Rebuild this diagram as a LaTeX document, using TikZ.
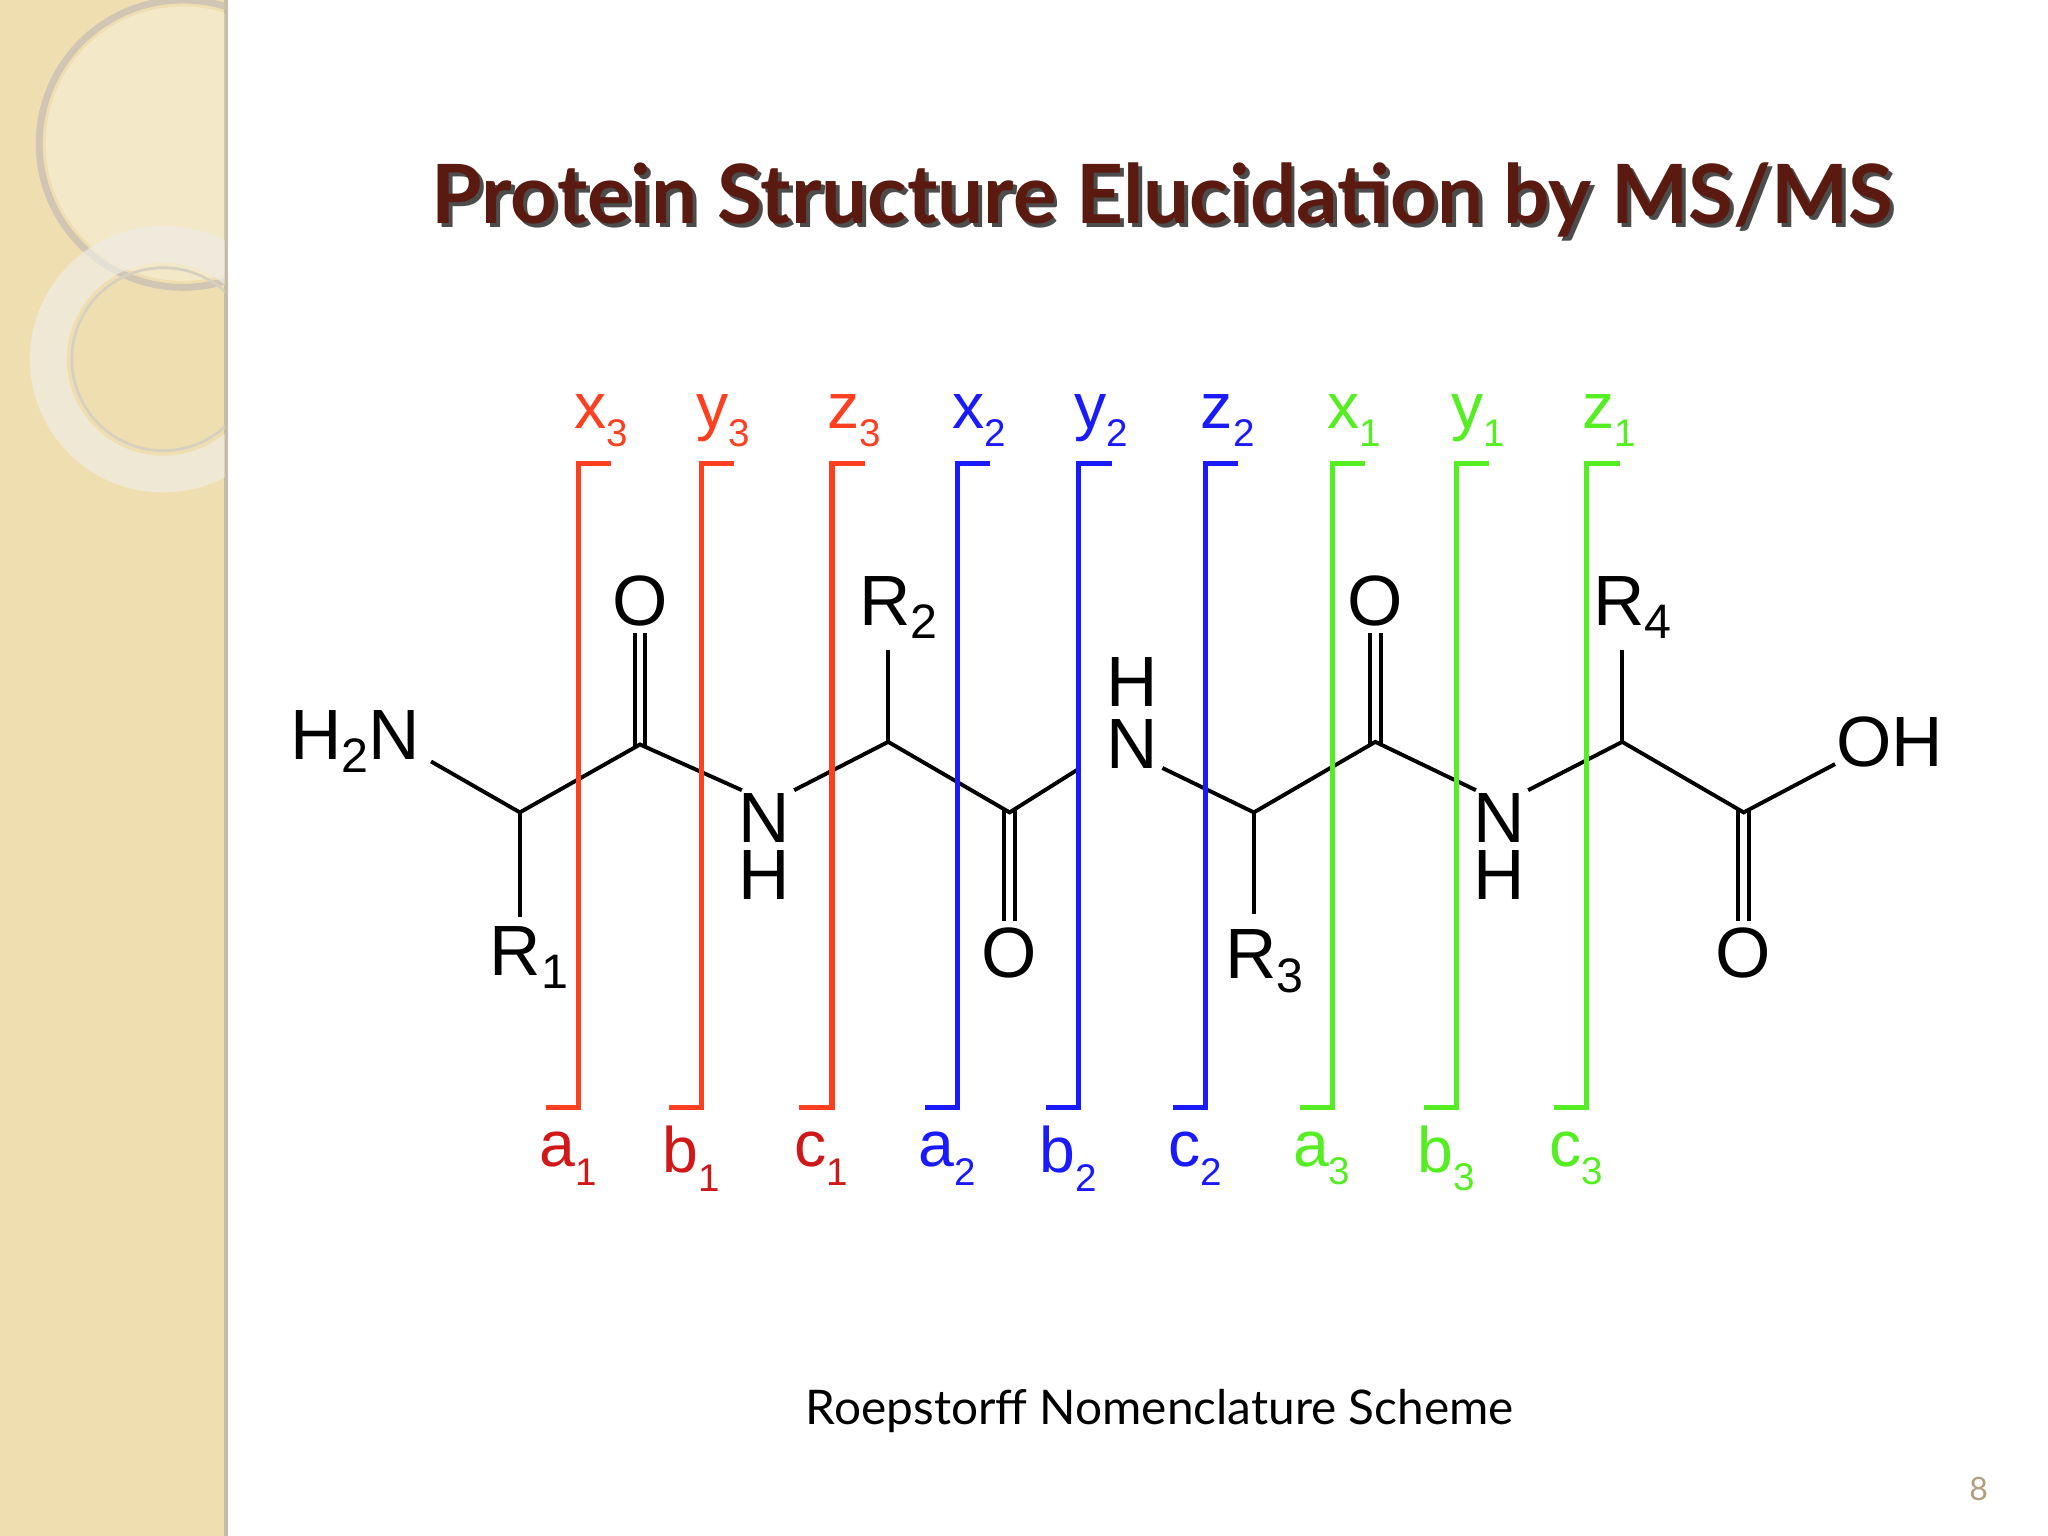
\documentclass[tikz,border=0pt]{standalone}
\usepackage{fontspec}
\setmainfont{Liberation Sans}
\newfontfamily\titlefont{Lato}
\usepackage{graphicx}
\definecolor{beige}{HTML}{EFDFB0}
\definecolor{brown}{HTML}{5A1A10}
\definecolor{fr}{HTML}{FF4020}
\definecolor{frd}{HTML}{D01818}
\definecolor{fb}{HTML}{1A1AFF}
\definecolor{fg}{HTML}{55EE22}
\definecolor{tan}{HTML}{B0A080}
\newcommand\lsb[1]{\raisebox{-0.35ex}{\scalebox{0.68}{#1}}}
\newcommand\lsc[1]{\raisebox{-0.55ex}{\scalebox{0.6}{#1}}}
\tikzset{atom/.style={font=\fontsize{15.5}{16}\selectfont,inner sep=0pt},
 bond/.style={line width=0.85pt},
 lab/.style={font=\fontsize{14}{15}\selectfont,inner sep=0pt},
 brk/.style={line width=1.1pt}}
\begin{document}
\begin{tikzpicture}[x=0.01cm,y=-0.01cm]
\useasboundingbox (0,0) rectangle (1568,1176);
\fill[white] (0,0) rectangle (1568,1176);
\fill[beige] (0,0) rectangle (172,1176);
\draw[tan!70,line width=1pt] (173,0) -- (173,1176);
\begin{scope}
\clip (0,0) rectangle (172,1176);
\fill[white,opacity=0.3] (140,110) circle (105);
\draw[tan!60!white,line width=1.5pt] (140,110) circle (110);
\draw[white!80!tan,opacity=0.7,line width=8pt] (125,275) circle (88);
\draw[tan!50!white,line width=0.6pt] (125,275) circle (70);
\end{scope}
% title
\node[font=\titlefont\bfseries\fontsize{17.8}{20}\selectfont,text=black!70] at (893,156) {Protein Structure Elucidation by MS/MS};
\node[font=\titlefont\bfseries\fontsize{17.8}{20}\selectfont,text=brown] (title) at (890,153) {Protein Structure Elucidation by MS/MS};
% atoms
\node[atom] (nh2) at (272,568) {H\lsb{2}N};
\coordinate (c1) at (398,622);
\node[atom] (r1) at (405,733) {R\lsb{1}};
\coordinate (k1) at (490,570);
\node[atom] (o1) at (490,460) {O};
\node[atom] (n1) at (585,626) {N};
\node[atom] (h1) at (585,670) {H};
\coordinate (c2) at (680,568);
\node[atom] (r2) at (688,465) {R\lsb{2}};
\coordinate (k2) at (773,622);
\node[atom] (o2) at (773,730) {O};
\node[atom] (n2) at (867,570) {N};
\node[atom] (h2) at (867,522) {H};
\coordinate (c3) at (960,622);
\node[atom] (r3) at (968,736) {R\lsb{3}};
\coordinate (k3) at (1053,568);
\node[atom] (o3) at (1053,460) {O};
\node[atom] (n3) at (1148,626) {N};
\node[atom] (h3) at (1148,670) {H};
\coordinate (c4) at (1242,568);
\node[atom] (r4) at (1250,465) {R\lsb{4}};
\coordinate (k4) at (1335,622);
\node[atom] (o4) at (1335,730) {O};
\node[atom] (oh) at (1447,568) {OH};
% bonds
\draw[bond] (330,583) -- (c1) -- (k1) -- (568,605);
\draw[bond] (c1) -- (398,702);
\draw[bond] (486,572) -- (486,485) (494,572) -- (494,485);
\draw[bond] (608,605) -- (c2) -- (k2) -- (827,588);
\draw[bond] (c2) -- (680,498);
\draw[bond] (769,620) -- (769,705) (777,620) -- (777,705);
\draw[bond] (890,588) -- (c3) -- (k3) -- (1130,605);
\draw[bond] (c3) -- (960,700);
\draw[bond] (1049,570) -- (1049,485) (1057,570) -- (1057,485);
\draw[bond] (1170,605) -- (c4) -- (k4) -- (1405,585);
\draw[bond] (c4) -- (1242,498);
\draw[bond] (1331,620) -- (1331,705) (1339,620) -- (1339,705);
% brackets
\foreach \x/\c/\t/\b/\tc in {443/fr/x\lsc{3}/a\lsc{1}/frd, 537/fr/y\lsc{3}/b\lsc{1}/frd, 637/fr/z\lsc{3}/c\lsc{1}/frd,
 733/fb/x\lsc{2}/a\lsc{2}/fb, 826/fb/y\lsc{2}/b\lsc{2}/fb, 923/fb/z\lsc{2}/c\lsc{2}/fb,
 1020/fg/x\lsc{1}/a\lsc{3}/fg, 1115/fg/y\lsc{1}/b\lsc{3}/fg, 1215/fg/z\lsc{1}/c\lsc{3}/fg}{
 \draw[brk,\c] (\x+25,355) -- (\x,355) -- (\x,848) -- (\x-25,848);
 \node[lab,text=\c] at (\x+17,322) {\t};
 \node[lab,text=\tc] at (\x-8,887) {\b};
}
\node[font=\titlefont\fontsize{10.4}{12}\selectfont] (cap) at (888,1080) {Roepstorff Nomenclature Scheme};
\node[font=\titlefont\fontsize{7}{8}\selectfont,text=tan] (pg) at (1515,1140) {8};
\end{tikzpicture}
\end{document}
